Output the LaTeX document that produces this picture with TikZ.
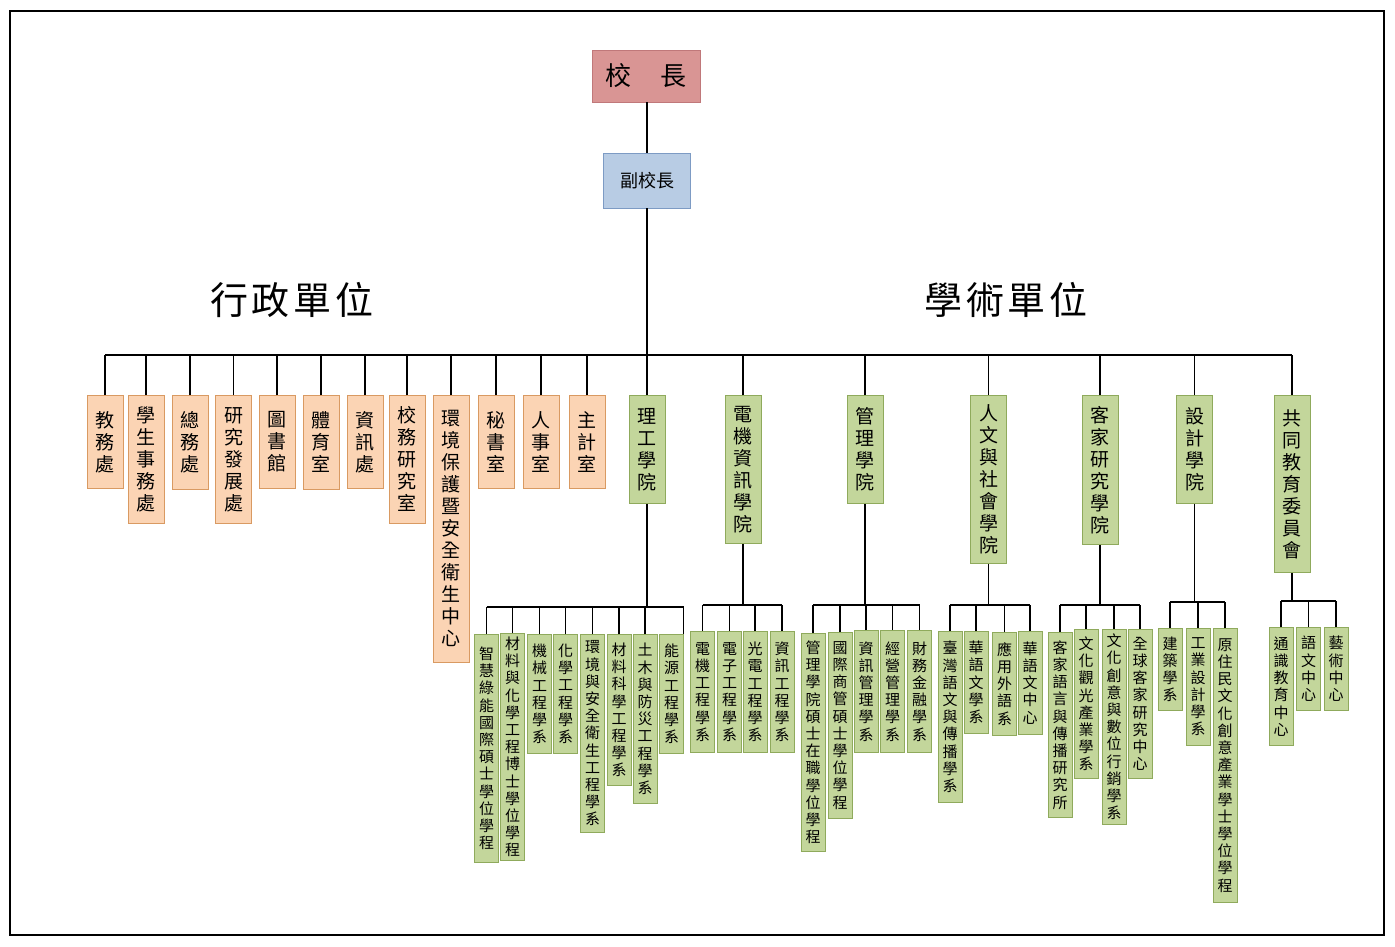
\documentclass[tikz,border=0pt]{standalone}
\usepackage{fontspec}
\newfontfamily\cjk{Noto Sans CJK TC}
\usetikzlibrary{calc}
\definecolor{admfill}{HTML}{FBD4B4}
\definecolor{admline}{HTML}{D99A62}
\definecolor{grnfill}{HTML}{C3D69B}
\definecolor{grnline}{HTML}{8FAA5C}
\definecolor{redfill}{HTML}{D99594}
\definecolor{redline}{HTML}{C0787A}
\definecolor{bluefill}{HTML}{B8CCE4}
\definecolor{blueline}{HTML}{7D9BC4}
\makeatletter
\def\vt#1{\vt@first#1\relax}
\def\vt@first#1{#1\vt@rest}
\def\vt@rest#1{\ifx#1\relax\expandafter\@gobble\else\expandafter\@firstofone\fi{\\#1\vt@rest}}
\makeatother
\tikzset{
  boxbase/.style={anchor=north, inner sep=0pt, align=center, line width=0.8pt},
  adm/.style={boxbase, draw=admline, fill=admfill, minimum width=36,
    font=\cjk\fontsize{19}{22}\selectfont},
  col/.style={boxbase, draw=grnline, fill=grnfill, minimum width=36,
    font=\cjk\fontsize{19}{22}\selectfont},
  sub/.style={boxbase, draw=grnline, fill=grnfill, minimum width=24,
    font=\cjk\fontsize{15}{17.2}\selectfont},
  conn/.style={line width=1.1pt, black},
  hdr/.style={font=\cjk\fontsize{38}{40}\selectfont}
}
\begin{document}
\begin{tikzpicture}[x=1pt,y=-1pt]
\useasboundingbox (0,0) rectangle (1395,947);
\draw[line width=1.4pt] (10,11) rectangle (1384,935);

% top
\node[draw=redline, fill=redfill, line width=0.8pt, minimum width=108, minimum height=52, inner sep=0pt,
  font=\cjk\fontsize{26}{28}\selectfont] (p) at (646,76) {校\hspace{30pt}長};
\node[draw=blueline, fill=bluefill, line width=0.8pt, minimum width=87, minimum height=55, inner sep=0pt,
  font=\cjk\fontsize{18}{20}\selectfont] (vp) at (647,180.5) {副校長};

% headers
\node[hdr] (h1) at (292,300) {行\kern4pt政\kern4pt單\kern4pt位};
\node[hdr] (h2) at (1006,300) {學\kern4pt術\kern4pt單\kern4pt位};

% administrative units
\node[adm, minimum height=93]  (a1)  at (105,395) {\vt{教務處}};
\node[adm, minimum height=128] (a2)  at (146,395) {\vt{學生事務處}};
\node[adm, minimum height=94]  (a3)  at (190,395) {\vt{總務處}};
\node[adm, minimum height=128] (a4)  at (233.5,395) {\vt{研究發展處}};
\node[adm, minimum height=93]  (a5)  at (277,395) {\vt{圖書館}};
\node[adm, minimum height=94]  (a6)  at (321,395) {\vt{體育室}};
\node[adm, minimum height=93]  (a7)  at (365,395) {\vt{資訊處}};
\node[adm, minimum height=128] (a8)  at (407,395) {\vt{校務研究室}};
\node[adm, minimum height=267] (a9)  at (451,395) {\vt{環境保護暨安全衛生中心}};
\node[adm, minimum height=93]  (a10) at (496,395) {\vt{秘書室}};
\node[adm, minimum height=93]  (a11) at (541,395) {\vt{人事室}};
\node[adm, minimum height=93]  (a12) at (587,395) {\vt{主計室}};

% colleges
\node[col, minimum height=108] (c1) at (647,395) {\vt{理工學院}};
\node[col, minimum height=148] (c2) at (743,395) {\vt{電機資訊學院}};
\node[col, minimum height=108] (c3) at (865,395) {\vt{管理學院}};
\node[col, minimum height=168] (c4) at (988.5,395) {\vt{人文與社會學院}};
\node[col, minimum height=149] (c5) at (1100,395) {\vt{客家研究學院}};
\node[col, minimum height=108] (c6) at (1194.5,395) {\vt{設計學院}};
\node[col, minimum height=177] (c7) at (1292,395) {\vt{共同教育委員會}};

% 理工學院 subunits
\node[sub, minimum height=228] (s1) at (486.5,634) {\vt{智慧綠能國際碩士學位學程}};
\node[sub, minimum height=227] (s2) at (512.5,633) {\vt{材料與化學工程博士學位學程}};
\node[sub, minimum height=119] (s3) at (539.5,634) {\vt{機械工程學系}};
\node[sub, minimum height=119] (s4) at (565.5,634) {\vt{化學工程學系}};
\node[sub, minimum height=198] (s5) at (592.5,634) {\vt{環境與安全衛生工程學系}};
\node[sub, minimum height=151] (s6) at (619,634) {\vt{材料科學工程學系}};
\node[sub, minimum height=169] (s7) at (645,634) {\vt{土木與防災工程學系}};
\node[sub, minimum height=119] (s8) at (671.5,634) {\vt{能源工程學系}};

% 電機資訊學院 subunits
\node[sub, minimum height=121] (e1) at (702.5,631) {\vt{電機工程學系}};
\node[sub, minimum height=121] (e2) at (729.5,631) {\vt{電子工程學系}};
\node[sub, minimum height=121] (e3) at (755,631) {\vt{光電工程學系}};
\node[sub, minimum height=121] (e4) at (782,631) {\vt{資訊工程學系}};

% 管理學院 subunits
\node[sub, minimum height=218] (m1) at (813,633) {\vt{管理學院碩士在職學位學程}};
\node[sub, minimum height=186] (m2) at (840,632) {\vt{國際商管碩士學位學程}};
\node[sub, minimum height=122] (m3) at (866,630) {\vt{資訊管理學系}};
\node[sub, minimum height=122] (m4) at (892.5,630) {\vt{經營管理學系}};
\node[sub, minimum height=122] (m5) at (919.5,630) {\vt{財務金融學系}};

% 人文與社會學院 subunits
\node[sub, minimum height=171] (u1) at (950,631) {\vt{臺灣語文與傳播學系}};
\node[sub, minimum height=102] (u2) at (976,631) {\vt{華語文學系}};
\node[sub, minimum height=103] (u3) at (1004.5,632) {\vt{應用外語系}};
\node[sub, minimum height=103] (u4) at (1030,631) {\vt{華語文中心}};

% 客家研究學院 subunits
\node[sub, minimum height=185] (k1) at (1060,632) {\vt{客家語言與傳播研究所}};
\node[sub, minimum height=149] (k2) at (1086,629) {\vt{文化觀光產業學系}};
\node[sub, minimum height=195] (k3) at (1114,629) {\vt{文化創意與數位行銷學系}};
\node[sub, minimum height=149] (k4) at (1140,629) {\vt{全球客家研究中心}};

% 設計學院 subunits
\node[sub, minimum height=82]  (d1) at (1170,628) {\vt{建築學系}};
\node[sub, minimum height=117] (d2) at (1198,628) {\vt{工業設計學系}};
\node[sub, minimum height=274] (d3) at (1225,628) {\vt{原住民文化創意產業學士學位學程}};

% 共同教育委員會 subunits
\node[sub, minimum height=118] (g1) at (1281,627) {\vt{通識教育中心}};
\node[sub, minimum height=83]  (g2) at (1308.5,627) {\vt{語文中心}};
\node[sub, minimum height=83]  (g3) at (1336,627) {\vt{藝術中心}};

% bus levels
\coordinate (busM) at (0,355);
\coordinate (busS) at (0,607);
\coordinate (busE) at (0,605);
\coordinate (busD) at (0,602);
\coordinate (busG) at (0,601);

% main connectors
\draw[conn] (vp.north |- p.south) -- (vp.north);
\draw[conn] (vp.south) -- (c1.north);
\draw[conn] (a1.north |- busM) -- (c7.north |- busM);
\foreach \n in {a1,a2,a3,a4,a5,a6,a7,a8,a9,a10,a11,a12,c2,c3,c4,c5,c6,c7}
  \draw[conn] (\n.north) -- (\n.north |- busM);

% 理工
\draw[conn] (c1.south) -- (c1.south |- busS);
\draw[conn] (s1.north |- busS) -- (s8.north east |- busS);
\foreach \n in {s1,s2,s3,s4,s5,s6,s7}
  \draw[conn] (\n.north) -- (\n.north |- busS);
\draw[conn] (s8.north east) -- (s8.north east |- busS);

% 電機
\draw[conn] (c2.south) -- (c2.south |- busE);
\draw[conn] (e1.north |- busE) -- (e4.north |- busE);
\foreach \n in {e1,e2,e3,e4}
  \draw[conn] (\n.north) -- (\n.north |- busE);

% 管理
\draw[conn] (c3.south) -- (c3.south |- busE);
\draw[conn] (m1.north |- busE) -- (m5.north |- busE);
\foreach \n in {m1,m2,m3,m4,m5}
  \draw[conn] (\n.north) -- (\n.north |- busE);

% 人文
\draw[conn] (c4.south) -- (c4.south |- busE);
\draw[conn] (u1.north |- busE) -- (u4.north |- busE);
\foreach \n in {u1,u2,u3,u4}
  \draw[conn] (\n.north) -- (\n.north |- busE);

% 客家
\draw[conn] (c5.south) -- (c5.south |- busE);
\draw[conn] (k1.north |- busE) -- (k4.north |- busE);
\foreach \n in {k1,k2,k3,k4}
  \draw[conn] (\n.north) -- (\n.north |- busE);

% 設計
\draw[conn] (c6.south) -- (c6.south |- busD);
\draw[conn] (d1.north |- busD) -- (d3.north |- busD);
\foreach \n in {d1,d2,d3}
  \draw[conn] (\n.north) -- (\n.north |- busD);

% 共同
\draw[conn] (c7.south) -- (c7.south |- busG);
\draw[conn] (g1.north |- busG) -- (g3.north |- busG);
\foreach \n in {g1,g2,g3}
  \draw[conn] (\n.north) -- (\n.north |- busG);
\end{tikzpicture}
\end{document}
